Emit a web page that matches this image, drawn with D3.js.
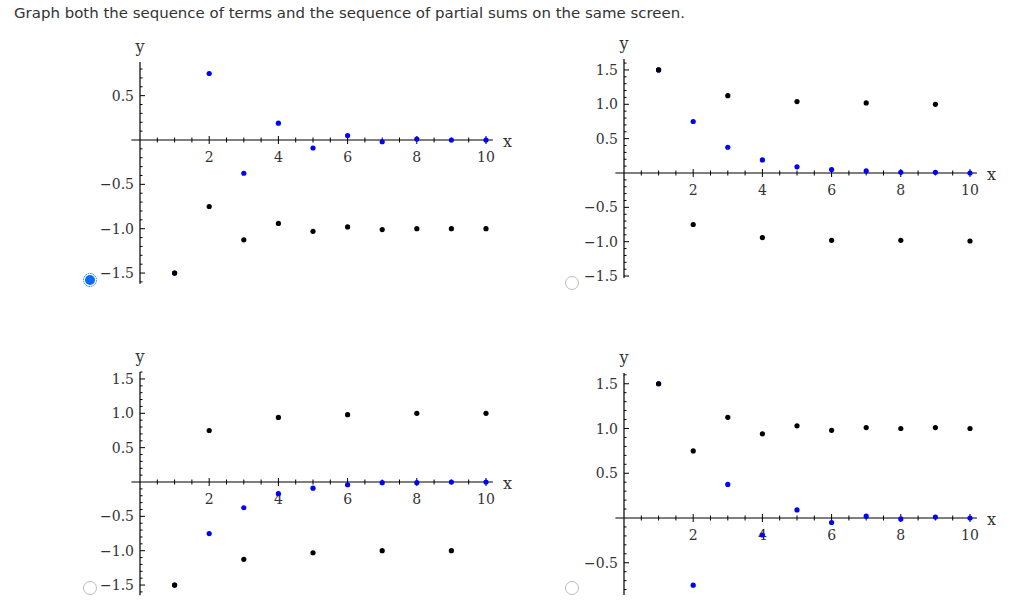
<!DOCTYPE html>
<html><head><meta charset="utf-8">
<script src="https://cdn.jsdelivr.net/npm/d3@7"></script>
<style>body{margin:0;background:#fff}</style>
</head><body>
<svg id="c" width="1024" height="615"></svg>
<script>
const title = "Graph both the sequence of terms and the sequence of partial sums on the same screen.";
const n = [1,2,3,4,5,6,7,8,9,10];
const termsA = [-1.5,0.75,-0.375,0.19,-0.09,0.05,-0.02,0.01,0.0,0.0];
const sumsA  = [-1.5,-0.75,-1.125,-0.94,-1.03,-0.98,-1.01,-1.0,-1.0,-1.0];
const termsB = [1.5,0.75,0.375,0.19,0.09,0.05,0.03,0.01,0.01,0.0];
const sumsB  = [1.5,-0.75,1.125,-0.94,1.04,-0.98,1.02,-0.98,1.0,-0.99];
const termsC = [-1.5,-0.75,-0.375,-0.17,-0.09,-0.04,-0.01,-0.01,0.0,0.0];
const sumsC  = [-1.5,0.75,-1.125,0.94,-1.03,0.98,-1.0,1.0,-1.0,1.0];
const termsD = [1.5,-0.75,0.375,-0.19,0.09,-0.05,0.02,-0.01,0.01,0.0];
const sumsD  = [1.5,0.75,1.125,0.94,1.03,0.98,1.01,1.0,1.01,1.0];
const xTicks = [2,4,6,8,10];
const yTicksA = [-1.5,-1.0,-0.5,0.5];
const yTicksB = [-1.5,-1.0,-0.5,0.5,1.0,1.5];
const yTicksD = [-0.5,0.5,1.0,1.5];

const svg = d3.select("#c");
svg.append("text").attr("x",14).attr("y",18).attr("font-family","DejaVu Sans, sans-serif")
  .attr("font-size",14).attr("fill","#333").attr("textLength",671).attr("lengthAdjust","spacingAndGlyphs").text(title);

const serif = "DejaVu Serif, Liberation Serif, serif";
function panel(o){
  const x = d3.scaleLinear().domain([0,10]).range([o.x0, o.x0+346]);
  const y = d3.scaleLinear().domain([0,1]).range([o.y0, o.y0-o.u]);
  const g = svg.append("g");
  g.append("line").attr("x1",x(-0.25)).attr("x2",x(10.2)).attr("y1",y(0)).attr("y2",y(0)).attr("stroke","#000").attr("stroke-width",1.2);
  d3.range(0.5,10.01,0.5).forEach(v=>{
    const major = v%2===0;
    g.append("line").attr("x1",x(v)).attr("x2",x(v)).attr("y1",y(0)-(major?4:2.5)).attr("y2",y(0)+(major?4:2.5)).attr("stroke","#000");
  });
  g.selectAll(null).data(xTicks).join("text").attr("x",d=>x(d)).attr("y",y(0)+22)
    .attr("text-anchor","middle").attr("font-family",serif).attr("font-size",14).attr("fill","#333").text(d=>d);
  g.append("text").attr("x",x(10.2)+10).attr("y",y(0)+7).attr("font-family",serif).attr("font-size",16).attr("fill","#333").text("x");
  g.append("line").attr("x1",x(0)).attr("x2",x(0)).attr("y1",y(o.ymax)).attr("y2",y(o.ymin)).attr("stroke","#000").attr("stroke-width",1.2);
  d3.range(Math.ceil(o.ymin*10),Math.floor(o.ymax*10)+1).forEach(k=>{
    if(k===0) return;
    const major = k%5===0;
    g.append("line").attr("x1",x(0)).attr("x2",x(0)+(major?5:2.5)).attr("y1",y(k/10)).attr("y2",y(k/10)).attr("stroke","#000");
  });
  g.selectAll(null).data(o.yt).join("text").attr("x",x(0)-6).attr("y",d=>y(d)+5)
    .attr("text-anchor","end").attr("font-family",serif).attr("font-size",14).attr("fill","#333")
    .text(d=>(d<0?"\u2212":"")+Math.abs(d).toFixed(1));
  g.append("text").attr("x",x(0)).attr("y",y(o.ymax)-10).attr("text-anchor","middle").attr("font-family",serif).attr("font-size",16).attr("fill","#333").text("y");
  g.selectAll(null).data(n).join("circle").attr("cx",d=>x(d)).attr("cy",(d,i)=>y(o.t[i])).attr("r",2.6).attr("fill","#0000ff");
  g.selectAll(null).data(n).join("circle").attr("cx",d=>x(d)).attr("cy",(d,i)=>y(o.s[i])).attr("r",2.6).attr("fill","#000");
  const r = svg.append("circle").attr("cx",o.rx).attr("cy",o.ry).attr("r",6.5);
  if(o.sel){ r.attr("fill","#fff").attr("stroke","#1a73e8").attr("stroke-width",1).attr("stroke-dasharray","1.5,1");
    svg.append("circle").attr("cx",o.rx).attr("cy",o.ry).attr("r",5).attr("fill","#0a6cf5"); }
  else r.attr("fill","#fff").attr("stroke","#bbb").attr("stroke-width",1);
}
panel({x0:140,y0:140,u:88.7,ymin:-1.62,ymax:0.88,t:termsA,s:sumsA,yt:yTicksA,rx:90,ry:280,sel:true});
panel({x0:624,y0:173,u:68.7,ymin:-1.53,ymax:1.66,t:termsB,s:sumsB,yt:yTicksB,rx:572,ry:283});
panel({x0:140,y0:482,u:68.7,ymin:-1.65,ymax:1.6,t:termsC,s:sumsC,yt:yTicksB,rx:90,ry:588});
panel({x0:624,y0:518,u:89.5,ymin:-0.86,ymax:1.62,t:termsD,s:sumsD,yt:yTicksD,rx:572,ry:588});
</script></body></html>
